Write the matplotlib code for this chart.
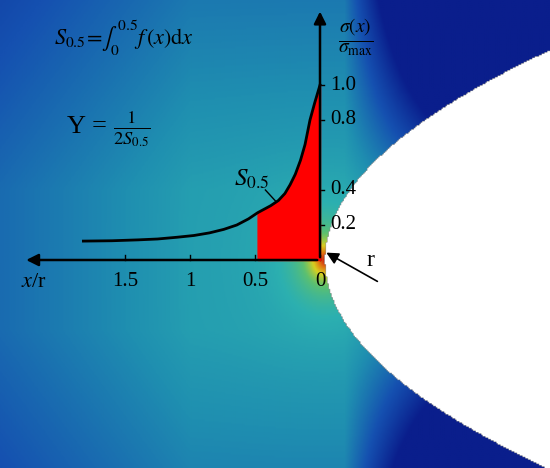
import numpy as np
import matplotlib.pyplot as plt
from matplotlib.colors import LinearSegmentedColormap

plt.rcParams['font.family'] = ['Liberation Serif', 'DejaVu Serif']
plt.rcParams['mathtext.fontset'] = 'stix'

# normalized stress curve sigma(x)/sigma_max along x/r
curve_x = [0.0, 0.04, 0.077, 0.115, 0.15, 0.19, 0.23, 0.27, 0.32, 0.38, 0.43, 0.48, 0.55, 0.64,
           0.74, 0.85, 0.97, 1.10, 1.25, 1.40, 1.60, 1.82]
curve_y = [1.0, 0.90, 0.80, 0.66, 0.57, 0.49, 0.43, 0.38, 0.34, 0.31, 0.29, 0.27, 0.235, 0.20,
           0.175, 0.155, 0.14, 0.13, 0.12, 0.115, 0.11, 0.108]
x_ticks = [1.5, 1, 0.5, 0]
y_ticks = [0.2, 0.4, 0.8, 1.0]
fill_end = 0.48

W, H = 550, 468
ox, oy, sx, sy = 320, 260, 130.0, 175.0
x_left, x_right = ox / sx, -(W - ox) / sx
y_bot, y_top = -(H - oy) / sy, oy / sy

fig = plt.figure(figsize=(W / 100, H / 100), dpi=100)
ax = fig.add_axes([0, 0, 1, 1])
ax.set_xlim(x_left, x_right)
ax.set_ylim(y_bot, y_top)
ax.axis('off')

cmap = LinearSegmentedColormap.from_list('fea', [
    (0.0, '#0a1e8c'), (0.2, '#1550b0'), (0.38, '#1f8fb0'), (0.5, '#2cb0b0'),
    (0.62, '#5cc070'), (0.75, '#d8d020'), (0.88, '#e07010'), (1.0, '#c81010')])

# background stress field
gx = np.linspace(x_left, x_right, 400)
gy = np.linspace(y_bot, y_top, 340)
X, Y = np.meshgrid(gx, gy)
tipx = -0.04
d = np.hypot(X - tipx, Y * 1.1)
field = 0.42 + 0.55 / (1 + (d / 0.12) ** 1.6)
field -= 0.10 * np.clip(np.abs(Y) - 0.4, 0, None) + 0.10 * np.clip(X - 1.0, 0, None)
flank = np.clip(-(X - tipx) - 0.15, 0, None) * np.clip(np.abs(Y) - 0.15, 0, None)
field -= 0.9 * flank
field = np.clip(field, 0.0, 0.98)
# notch (white) region: rounded tip opening to the right
k = 0.0051 * sy ** 2 / sx
notch = (-(X - tipx)) > k * Y ** 2 + 0.35 * np.abs(Y) * 0
field = np.ma.masked_where(notch, field)
ax.imshow(field, extent=[x_left, x_right, y_bot, y_top], origin='lower',
          cmap=cmap, vmin=0, vmax=1, aspect='auto', interpolation='bilinear')

# red area under curve
cx = np.array(curve_x)
cy = np.array(curve_y)
m = cx <= fill_end
ax.fill_between(cx[m], 0, cy[m], color='#ff0000', zorder=3)
ax.plot(cx, cy, color='black', lw=2, zorder=4)

# axes arrows
ax.annotate('', xy=(x_left - 0.18, 0), xytext=(0, 0),
            arrowprops=dict(arrowstyle='-|>', color='black', lw=1.8, mutation_scale=18), zorder=5)
ax.annotate('', xy=(0, y_top - 0.05), xytext=(0, 0),
            arrowprops=dict(arrowstyle='-|>', color='black', lw=1.8, mutation_scale=18), zorder=5)
for t in x_ticks:
    ax.plot([t, t], [0, 0.03], color='black', lw=1)
    ax.text(t, -0.07, f'{t:g}', ha='center', va='top', fontsize=15)
for t in y_ticks:
    ax.plot([0, -0.03], [t, t], color='black', lw=1)
    ax.text(-0.08, t, f'{t:.1f}', ha='left', va='center', fontsize=15)

ax.text(2.20, -0.13, r'$x$/r', fontsize=16, ha='center', va='center')
ax.text(-0.28, 1.27, r'$\frac{\sigma(x)}{\sigma_{\rm max}}$', fontsize=20, ha='center', va='center')
ax.text(2.05, 1.27, r'$S_{0.5}\!=\!\int_0^{0.5} f\,(x)\mathrm{d}x$', fontsize=16, va='center')
ax.text(1.95, 0.75, r'Y = $\frac{1}{2S_{0.5}}$', fontsize=19, va='center')
ax.text(0.66, 0.46, r'$S_{0.5}$', fontsize=18, va='center')
ax.plot([0.42, 0.21], [0.40, 0.23], color='black', lw=1)
ax.text(-0.36, 0.0, 'r', fontsize=17, va='center')
ax.annotate('', xy=(-0.03, 0.05), xytext=(-0.46, -0.13),
            arrowprops=dict(arrowstyle='-|>', color='black', lw=1.2, mutation_scale=18))

fig.savefig('out.png', dpi=100)
